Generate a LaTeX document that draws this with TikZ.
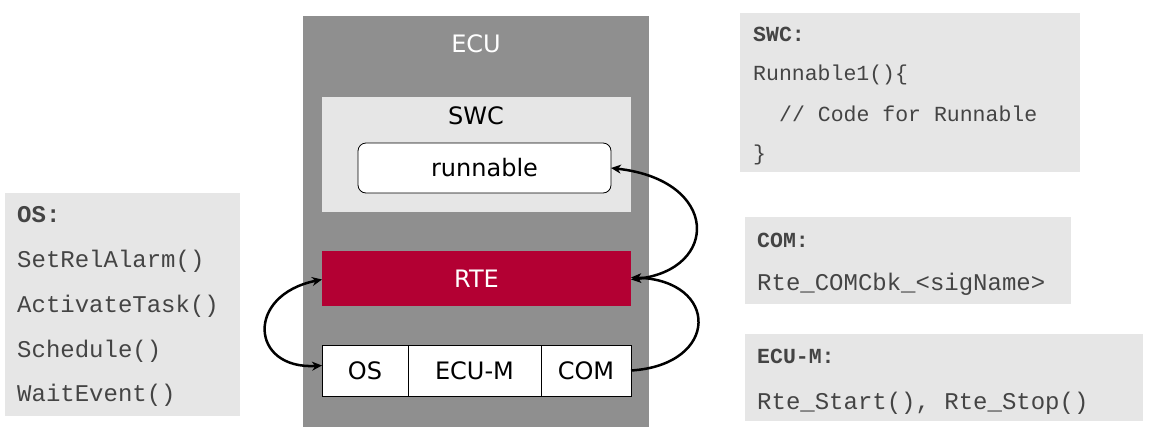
\documentclass[tikz,border=0pt]{standalone}
\usepackage{fontspec}
\setmainfont{DejaVu Sans}
\setmonofont{Liberation Mono}
\usetikzlibrary{arrows.meta}
\definecolor{ecugray}{HTML}{8F8F8F}
\definecolor{lgray}{HTML}{E6E6E6}
\definecolor{rtered}{HTML}{B30033}
\definecolor{codegray}{HTML}{444444}
\tikzset{
  box/.style={anchor=north west,inner sep=0pt,outer sep=0pt},
  bsw/.style={draw=black,fill=white,line width=0.8pt,anchor=north west,inner sep=0pt,outer sep=0pt,font=\fontsize{24}{28}\selectfont},
  code/.style={anchor=west,inner sep=0pt,font=\ttfamily\fontsize{24}{28}\selectfont,text=codegray},
  conn/.style={line width=2.5pt,-{Stealth[length=10pt,width=9pt]}},
  bconn/.style={line width=2.5pt,{Stealth[length=10pt,width=9pt]}-{Stealth[length=10pt,width=9pt]}}
}
\begin{document}
\begin{tikzpicture}[x=1pt,y=-1pt]
\useasboundingbox (0,0) rectangle (1156,437);
% ECU
\node[box,fill=ecugray,minimum width=346,minimum height=411] (ecu) at (303,16) {};
\node[text=white,font=\fontsize{24}{28}\selectfont] (ecut) at (476,44) {ECU};
\node[box,fill=lgray,minimum width=309,minimum height=115] (swc) at (322,97) {};
\node[font=\fontsize{24}{28}\selectfont] (swct) at (476,116) {SWC};
\node[box,draw=black,fill=white,rounded corners=8pt,line width=0.8pt,minimum width=253,minimum height=50,font=\fontsize{24}{28}\selectfont] (run) at (358,143) {runnable};
\node[box,fill=rtered,text=white,minimum width=309,minimum height=55,font=\fontsize{24}{28}\selectfont] (rte) at (322,251) {RTE};
\node[bsw,minimum width=86,minimum height=51] (os) at (322,345) {OS};
\node[bsw,minimum width=133,minimum height=51] (ecum) at (408,345) {ECU-M};
\node[bsw,minimum width=90,minimum height=51] (com) at (541,345) {COM};
% arrows
\draw[bconn] (run.east) .. controls (720,180) and (720,270) .. ([yshift=-1]rte.east);
\draw[conn] (com.east) .. controls (720,365) and (720,280) .. ([yshift=1]rte.east);
\draw[bconn] ([yshift=-1]rte.west) .. controls (245,295) and (250,370) .. ([yshift=5]os.west);
% OS box
\node[box,fill=lgray,minimum width=235,minimum height=223] (osb) at (5,193) {};
\node[code,font=\ttfamily\bfseries\fontsize{24}{28}\selectfont] (os0) at (17,215) {OS:};
\node[code] (os1) at (17,261) {SetRelAlarm()};
\node[code] (os2) at (17,306) {ActivateTask()};
\node[code] (os3) at (17,351) {Schedule()};
\node[code] (os4) at (17,395) {WaitEvent()};
% SWC code box
\node[box,fill=lgray,minimum width=340,minimum height=159] (swcb) at (740,13) {};
\node[code,font=\ttfamily\bfseries\fontsize{21.5}{26}\selectfont] (s0) at (753,34) {SWC:};
\node[code,font=\ttfamily\fontsize{21.5}{26}\selectfont] (s1) at (753,75) {Runnable1()\{};
\node[code,font=\ttfamily\fontsize{21.5}{26}\selectfont] (s2) at (779,114) {// Code for Runnable};
\node[code,font=\ttfamily\fontsize{21.5}{26}\selectfont] (s3) at (753,155) {\}};
% COM box
\node[box,fill=lgray,minimum width=326,minimum height=87] (comb) at (745,217) {};
\node[code,font=\ttfamily\bfseries\fontsize{21.5}{26}\selectfont] (c0) at (757,240) {COM:};
\node[code] (c1) at (757,284) {Rte\_COMCbk\_<sigName>};
% ECU-M box
\node[box,fill=lgray,minimum width=398,minimum height=87] (ecumb) at (745,334) {};
\node[code,font=\ttfamily\bfseries\fontsize{21.5}{26}\selectfont] (e0) at (757,356) {ECU-M:};
\node[code] (e1) at (757,403) {Rte\_Start(), Rte\_Stop()};
\end{tikzpicture}
\end{document}
